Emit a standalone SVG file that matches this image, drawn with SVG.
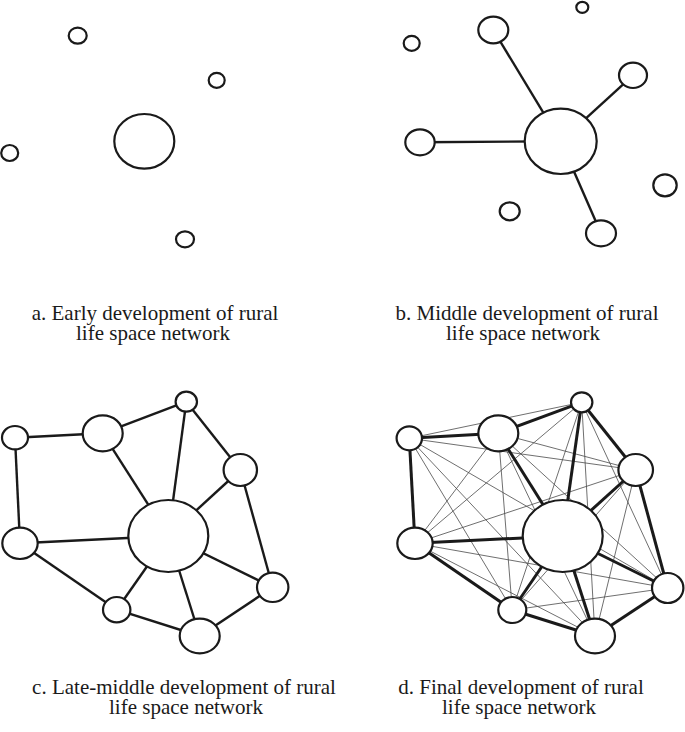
<svg xmlns="http://www.w3.org/2000/svg" width="685" height="732" viewBox="0 0 685 732">
<style>
.n{fill:#fff;stroke:#1a1a1a;stroke-width:2.2}
.e{stroke:#1a1a1a;stroke-width:2.4;fill:none}
.k{stroke:#1a1a1a;stroke-width:3;fill:none}
.t{stroke:#4a4a4a;stroke-width:0.8;fill:none}
.lbl{font-family:"Liberation Serif","Times New Roman",serif;font-size:21px;fill:#1a1a1a;text-anchor:middle}
</style>
<rect width="685" height="732" fill="#fff"/>
<!-- Panel a -->
<g id="a-nodes">
<g id="a-big"><ellipse class="n" cx="144.3" cy="141.3" rx="30" ry="27.3"/></g>
<g id="a-n1"><ellipse class="n" cx="77.7" cy="35.7" rx="9" ry="8"/></g>
<g id="a-n2"><ellipse class="n" cx="216.7" cy="80.3" rx="8" ry="7.5"/></g>
<g id="a-n3"><ellipse class="n" cx="9.7" cy="153" rx="8.5" ry="8"/></g>
<g id="a-n4"><ellipse class="n" cx="185" cy="239.3" rx="9" ry="8"/></g>
</g>
<g id="a-label"><text class="lbl" x="155" y="320">a. Early development of rural</text><text class="lbl" x="153" y="340">life space network</text></g>
<!-- Panel b -->
<g id="b-connectors">
<line class="e" x1="493.3" y1="30" x2="560.7" y2="141.3"/>
<line class="e" x1="633" y1="75.3" x2="560.7" y2="141.3"/>
<line class="e" x1="420" y1="142.3" x2="560.7" y2="141.3"/>
<line class="e" x1="601" y1="233.3" x2="560.7" y2="141.3"/>
</g>
<g id="b-nodes">
<g id="b-big"><ellipse class="n" cx="560.7" cy="141.3" rx="36" ry="32.7"/></g>
<g id="b-n1"><ellipse class="n" cx="582.3" cy="7.3" rx="6" ry="5.5"/></g>
<g id="b-n2"><ellipse class="n" cx="411.7" cy="43.3" rx="8" ry="7.5"/></g>
<g id="b-n3"><ellipse class="n" cx="493.3" cy="30" rx="15" ry="13.3"/></g>
<g id="b-n4"><ellipse class="n" cx="633" cy="75.3" rx="14" ry="12.7"/></g>
<g id="b-n5"><ellipse class="n" cx="420" cy="142.3" rx="14.7" ry="13"/></g>
<g id="b-n6"><ellipse class="n" cx="665" cy="185.3" rx="11.7" ry="11"/></g>
<g id="b-n7"><ellipse class="n" cx="509.7" cy="211.3" rx="10" ry="9"/></g>
<g id="b-n8"><ellipse class="n" cx="601" cy="233.3" rx="15" ry="13"/></g>
</g>
<g id="b-label"><text class="lbl" x="527" y="320">b. Middle development of rural</text><text class="lbl" x="523" y="340">life space network</text></g>
<!-- Panel c -->
<g id="c-connectors">
<line class="e" x1="15" y1="437.7" x2="102.7" y2="433.3"/>
<line class="e" x1="102.7" y1="433.3" x2="186.3" y2="401.7"/>
<line class="e" x1="15" y1="437.7" x2="20" y2="543.3"/>
<line class="e" x1="102.7" y1="433.3" x2="168.3" y2="536"/>
<line class="e" x1="186.3" y1="401.7" x2="168.3" y2="536"/>
<line class="e" x1="186.3" y1="401.7" x2="240.3" y2="470"/>
<line class="e" x1="240.3" y1="470" x2="168.3" y2="536"/>
<line class="e" x1="240.3" y1="470" x2="272.7" y2="587.3"/>
<line class="e" x1="20" y1="543.3" x2="168.3" y2="536"/>
<line class="e" x1="20" y1="543.3" x2="116.7" y2="609.7"/>
<line class="e" x1="116.7" y1="609.7" x2="168.3" y2="536"/>
<line class="e" x1="116.7" y1="609.7" x2="199.7" y2="636"/>
<line class="e" x1="199.7" y1="636" x2="168.3" y2="536"/>
<line class="e" x1="272.7" y1="587.3" x2="168.3" y2="536"/>
<line class="e" x1="272.7" y1="587.3" x2="199.7" y2="636"/>
</g>
<g id="c-nodes">
<g id="c-big"><ellipse class="n" cx="168.3" cy="536" rx="40" ry="36"/></g>
<g id="c-n1"><ellipse class="n" cx="15" cy="437.7" rx="13" ry="11.7"/></g>
<g id="c-n2"><ellipse class="n" cx="102.7" cy="433.3" rx="20" ry="18"/></g>
<g id="c-n3"><ellipse class="n" cx="186.3" cy="401.7" rx="10.7" ry="10"/></g>
<g id="c-n4"><ellipse class="n" cx="240.3" cy="470" rx="16.7" ry="16"/></g>
<g id="c-n5"><ellipse class="n" cx="20" cy="543.3" rx="17.7" ry="15.7"/></g>
<g id="c-n6"><ellipse class="n" cx="272.7" cy="587.3" rx="15.7" ry="14.7"/></g>
<g id="c-n7"><ellipse class="n" cx="116.7" cy="609.7" rx="13.7" ry="12.7"/></g>
<g id="c-n8"><ellipse class="n" cx="199.7" cy="636" rx="20" ry="17.3"/></g>
</g>
<g id="c-label"><text class="lbl" x="184" y="694">c. Late-middle development of rural</text><text class="lbl" x="186" y="714">life space network</text></g>
<!-- Panel d -->
<g id="d-connectors">
<g id="d-thin">
<line class="t" x1="409.3" y1="438.3" x2="581.7" y2="402.3"/>
<line class="t" x1="409.3" y1="438.3" x2="635.7" y2="470"/>
<line class="t" x1="409.3" y1="438.3" x2="667.7" y2="588"/>
<line class="t" x1="409.3" y1="438.3" x2="512.3" y2="610"/>
<line class="t" x1="409.3" y1="438.3" x2="595" y2="636"/>
<line class="t" x1="498.3" y1="433.3" x2="635.7" y2="470"/>
<line class="t" x1="498.3" y1="433.3" x2="415" y2="543.3"/>
<line class="t" x1="498.3" y1="433.3" x2="667.7" y2="588"/>
<line class="t" x1="498.3" y1="433.3" x2="512.3" y2="610"/>
<line class="t" x1="498.3" y1="433.3" x2="595" y2="636"/>
<line class="t" x1="581.7" y1="402.3" x2="415" y2="543.3"/>
<line class="t" x1="581.7" y1="402.3" x2="667.7" y2="588"/>
<line class="t" x1="581.7" y1="402.3" x2="512.3" y2="610"/>
<line class="t" x1="581.7" y1="402.3" x2="595" y2="636"/>
<line class="t" x1="635.7" y1="470" x2="415" y2="543.3"/>
<line class="t" x1="635.7" y1="470" x2="512.3" y2="610"/>
<line class="t" x1="635.7" y1="470" x2="595" y2="636"/>
<line class="t" x1="415" y1="543.3" x2="667.7" y2="588"/>
<line class="t" x1="415" y1="543.3" x2="595" y2="636"/>
<line class="t" x1="667.7" y1="588" x2="512.3" y2="610"/>
</g>
<g id="d-thick">
<line class="k" x1="409.3" y1="438.3" x2="498.3" y2="433.3"/>
<line class="k" x1="498.3" y1="433.3" x2="581.7" y2="402.3"/>
<line class="k" x1="409.3" y1="438.3" x2="415" y2="543.3"/>
<line class="k" x1="498.3" y1="433.3" x2="562.7" y2="536"/>
<line class="k" x1="581.7" y1="402.3" x2="562.7" y2="536"/>
<line class="k" x1="581.7" y1="402.3" x2="635.7" y2="470"/>
<line class="k" x1="635.7" y1="470" x2="562.7" y2="536"/>
<line class="k" x1="635.7" y1="470" x2="667.7" y2="588"/>
<line class="k" x1="415" y1="543.3" x2="562.7" y2="536"/>
<line class="k" x1="415" y1="543.3" x2="512.3" y2="610"/>
<line class="k" x1="512.3" y1="610" x2="562.7" y2="536"/>
<line class="k" x1="512.3" y1="610" x2="595" y2="636"/>
<line class="k" x1="595" y1="636" x2="562.7" y2="536"/>
<line class="k" x1="667.7" y1="588" x2="562.7" y2="536"/>
<line class="k" x1="667.7" y1="588" x2="595" y2="636"/>
</g>
</g>
<g id="d-nodes">
<g id="d-big"><ellipse class="n" cx="562.7" cy="536" rx="40" ry="36"/></g>
<g id="d-n1"><ellipse class="n" cx="409.3" cy="438.3" rx="12.7" ry="12"/></g>
<g id="d-n2"><ellipse class="n" cx="498.3" cy="433.3" rx="20" ry="18"/></g>
<g id="d-n3"><ellipse class="n" cx="581.7" cy="402.3" rx="10.7" ry="10"/></g>
<g id="d-n4"><ellipse class="n" cx="635.7" cy="470" rx="17.3" ry="16"/></g>
<g id="d-n5"><ellipse class="n" cx="415" cy="543.3" rx="17.7" ry="15.7"/></g>
<g id="d-n6"><ellipse class="n" cx="667.7" cy="588" rx="15.7" ry="15"/></g>
<g id="d-n7"><ellipse class="n" cx="512.3" cy="610" rx="14" ry="13"/></g>
<g id="d-n8"><ellipse class="n" cx="595" cy="636" rx="20" ry="17.3"/></g>
</g>
<g id="d-label"><text class="lbl" x="521" y="694">d. Final development of rural</text><text class="lbl" x="519" y="714">life space network</text></g>
</svg>
